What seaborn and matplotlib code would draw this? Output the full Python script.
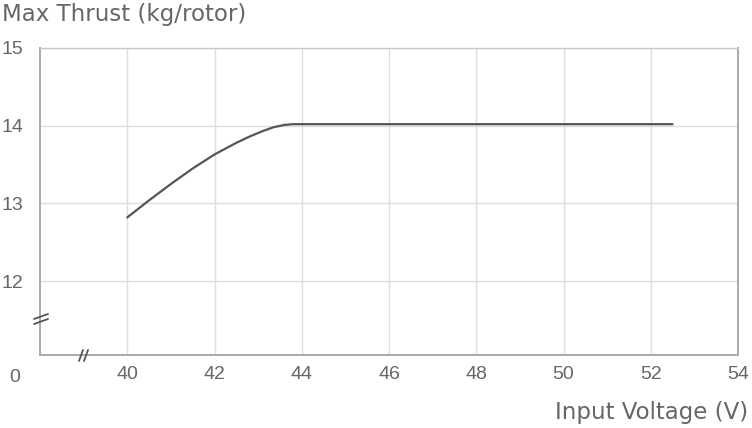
import matplotlib
matplotlib.use("Agg")
import matplotlib.pyplot as plt
import seaborn as sns
import pandas as pd

voltage = [40.0, 40.5, 41.0, 41.5, 42.0, 42.5, 42.8, 43.1, 43.35, 43.6, 43.8, 44.0, 46.0, 48.0, 50.0, 52.5]
thrust = [12.82, 13.04, 13.25, 13.45, 13.63, 13.78, 13.86, 13.93, 13.98, 14.01, 14.02, 14.02, 14.02, 14.02, 14.02, 14.02]
x_ticks = [40, 42, 44, 46, 48, 50, 52, 54]
y_ticks = [12, 13, 14, 15]
x_label = "Input Voltage (V)"
y_label = "Max Thrust (kg/rotor)"

sns.set_theme(style="white")
plt.rcParams['font.family'] = ['Liberation Sans', 'DejaVu Sans']

df = pd.DataFrame({"V": voltage, "T": thrust})

fig = plt.figure(figsize=(7.52, 4.28), dpi=100)
ax = fig.add_axes([40/752, 1-355/428, (738-40)/752, (355-48)/428])

sns.lineplot(data=df, x="V", y="T", ax=ax, color="#555555", linewidth=1.6)

ax.set_xlim(38, 54)
ax.set_ylim(11.05, 15)
ax.set_xticks(x_ticks)
ax.set_yticks(y_ticks)
ax.set_xticklabels([str(t) for t in x_ticks])
ax.set_yticklabels([str(t) for t in y_ticks], ha="left")
ax.tick_params(axis="both", length=0, labelsize=14, colors="#666666")
ax.tick_params(axis="y", pad=27.4)
ax.tick_params(axis="x", pad=8)

ax.grid(True, color="#dddddd", linewidth=1.0)
for side in ["left", "bottom", "right"]:
    ax.spines[side].set_color("#aaaaaa")
    ax.spines[side].set_linewidth(1.4)
ax.spines["top"].set_color("#c8c8c8")
ax.spines["top"].set_linewidth(1.0)

ax.set_xlabel("")
ax.set_ylabel("")

fig.text(15/752, 1-377/428, "0", fontsize=14, color="#666666", ha="center", va="center")

fig.text(2/752, 1-14/428, y_label, fontsize=16.5, color="#666666", ha="left", va="center",
         family=["DejaVu Sans"])
fig.text(748/752, 1-413/428, x_label, fontsize=16.5, color="#666666", ha="right", va="center",
         family=["DejaVu Sans"])

# axis break marks
for d in (0, 5):
    fig.add_artist(plt.Line2D([34/752, 48/752],
                              [1-(319+d)/428, 1-(314+d)/428],
                              color="#555555", linewidth=1.3))
for d in (0, 5):
    fig.add_artist(plt.Line2D([(79+d)/752, (83+d)/752],
                              [1-361/428, 1-350/428],
                              color="#555555", linewidth=1.3))

fig.savefig("out.png", dpi=100, facecolor="white")
